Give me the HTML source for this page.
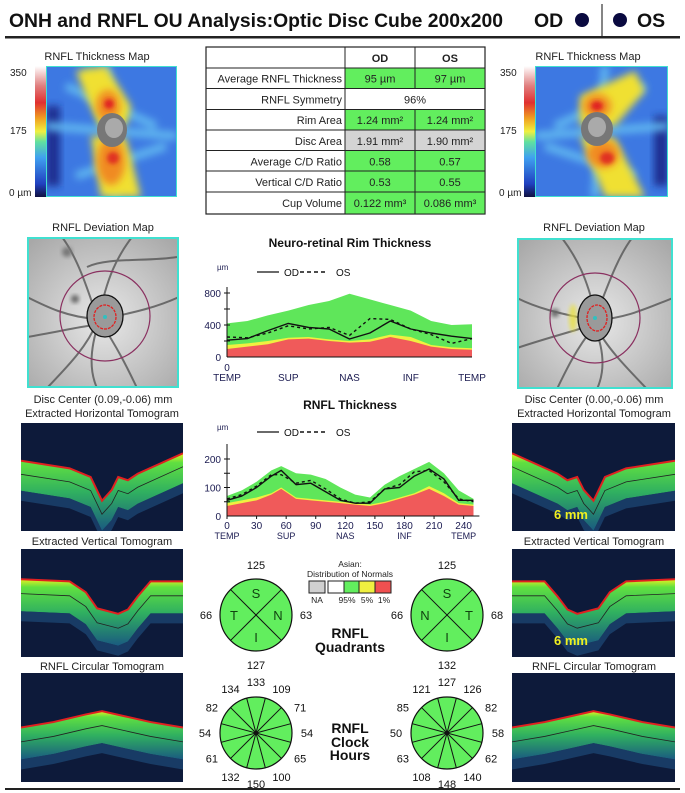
<!DOCTYPE html>
<html><head><meta charset="utf-8">
<style>
html,body{margin:0;padding:0;background:#fff;}
svg{display:block;font-family:"Liberation Sans",sans-serif;}
</style></head>
<body>
<svg id="root" width="685" height="793" viewBox="0 0 685 793" xmlns="http://www.w3.org/2000/svg">
<defs>
  <linearGradient id="cbar" x1="0" y1="1" x2="0" y2="0">
    <stop offset="0" stop-color="#101040"/><stop offset="0.1" stop-color="#2040c0"/>
    <stop offset="0.3" stop-color="#40a0f0"/><stop offset="0.42" stop-color="#60e0a0"/>
    <stop offset="0.5" stop-color="#f0f040"/><stop offset="0.6" stop-color="#f0a020"/>
    <stop offset="0.72" stop-color="#e03030"/><stop offset="0.85" stop-color="#e08080"/>
    <stop offset="1" stop-color="#ffffff"/>
  </linearGradient>
  <filter id="blur4" x="-30%" y="-30%" width="160%" height="160%"><feGaussianBlur stdDeviation="4"/></filter>
  <filter id="blur2" x="-30%" y="-30%" width="160%" height="160%"><feGaussianBlur stdDeviation="2"/></filter>
  <linearGradient id="retina" x1="0" y1="0" x2="0" y2="1">
    <stop offset="0" stop-color="#e8f020"/><stop offset="0.12" stop-color="#60e040"/>
    <stop offset="0.5" stop-color="#30b060"/><stop offset="1" stop-color="#1a5a80"/>
  </linearGradient>
  <radialGradient id="fundus" cx="0.5" cy="0.55" r="0.7">
    <stop offset="0" stop-color="#e8e8e8"/><stop offset="1" stop-color="#a8a8a8"/>
  </radialGradient>
</defs>

<!-- Header -->
<text x="9" y="27" font-size="19.5" font-weight="bold" fill="#111" textLength="494" lengthAdjust="spacingAndGlyphs">ONH and RNFL OU Analysis:Optic Disc Cube 200x200</text>
<text x="534" y="27" font-size="19.5" font-weight="bold" fill="#111">OD</text>
<circle cx="582" cy="20" r="7" fill="#0a0a40"/>
<line x1="602" y1="4" x2="602" y2="36" stroke="#333" stroke-width="1.2"/>
<circle cx="620" cy="20" r="7" fill="#0a0a40"/>
<text x="637" y="27" font-size="19.5" font-weight="bold" fill="#111">OS</text>
<rect x="5" y="36" width="675" height="2.5" fill="#222"/>

<!-- Left thickness map -->
<g>
  <text x="97" y="60" font-size="11" text-anchor="middle" fill="#222">RNFL Thickness Map</text>
  <rect x="35" y="66" width="11" height="131" fill="url(#cbar)"/>
  <text x="10" y="76" font-size="10" fill="#222">350</text>
  <text x="10" y="134" font-size="10" fill="#222">175</text>
  <text x="9" y="196" font-size="10" fill="#222">0 µm</text>
  <svg x="46" y="66" width="131" height="131">
    <rect width="131" height="131" fill="#3d78e2"/>
    <rect x="0" y="40" width="14" height="80" fill="#1a2f90" filter="url(#blur4)"/>
    <path d="M20,20 L110,60 M30,110 L120,80 M0,60 L131,70 M60,0 L70,131" stroke="#60b8f0" stroke-width="8" filter="url(#blur4)"/>
    <path d="M40,0 L80,50 L55,60 Z" fill="#7fe08a" filter="url(#blur4)"/>
    <path d="M30,5 L60,0 L85,40 L80,60 L55,62 L40,30 Z" fill="#f0e030" filter="url(#blur4)"/>
    <path d="M45,70 L80,72 L95,131 L55,131 Z" fill="#f0e030" filter="url(#blur4)"/>
    <ellipse cx="62" cy="40" rx="12" ry="16" fill="#f08a20" filter="url(#blur4)"/>
    <ellipse cx="65" cy="95" rx="14" ry="24" fill="#f08a20" filter="url(#blur4)"/>
    <ellipse cx="63" cy="38" rx="5" ry="5" fill="#e02020" filter="url(#blur2)"/>
    <ellipse cx="67" cy="92" rx="6" ry="6" fill="#e03020" filter="url(#blur2)"/>
    <ellipse cx="66" cy="64" rx="15" ry="17" fill="#777"/>
    <ellipse cx="68" cy="62" rx="9" ry="10" fill="#aaa"/>
    <rect x="0.5" y="0.5" width="130" height="130" fill="none" stroke="#40e0d0" stroke-width="1"/>
  </svg>
</g>

<!-- Right thickness map -->
<g>
  <text x="588" y="60" font-size="11" text-anchor="middle" fill="#222">RNFL Thickness Map</text>
  <rect x="524" y="66" width="11" height="131" fill="url(#cbar)"/>
  <text x="500" y="76" font-size="10" fill="#222">350</text>
  <text x="500" y="134" font-size="10" fill="#222">175</text>
  <text x="499" y="196" font-size="10" fill="#222">0 µm</text>
  <svg x="535" y="66" width="133" height="131">
    <rect width="133" height="131" fill="#3d78e2"/>
    <rect x="119" y="50" width="14" height="70" fill="#1a2f90" filter="url(#blur4)"/>
    <path d="M110,20 L20,60 M100,110 L10,80 M0,70 L133,60 M70,0 L60,131" stroke="#60b8f0" stroke-width="8" filter="url(#blur4)"/>
    <path d="M45,30 L100,5 L110,25 L80,60 L45,60 Z" fill="#f0e030" filter="url(#blur4)"/>
    <path d="M45,70 L80,72 L110,131 L70,131 Z" fill="#f0e030" filter="url(#blur4)"/>
    <ellipse cx="62" cy="40" rx="14" ry="12" fill="#f08a20" filter="url(#blur4)"/>
    <ellipse cx="68" cy="88" rx="16" ry="14" fill="#f08a20" filter="url(#blur4)"/>
    <ellipse cx="62" cy="40" rx="6" ry="5" fill="#e02020" filter="url(#blur2)"/>
    <ellipse cx="72" cy="92" rx="7" ry="6" fill="#e03020" filter="url(#blur2)"/>
    <ellipse cx="62" cy="63" rx="16" ry="17" fill="#777"/>
    <ellipse cx="62" cy="61" rx="9" ry="10" fill="#aaa"/>
    <rect x="0.5" y="0.5" width="132" height="130" fill="none" stroke="#40e0d0" stroke-width="1"/>
  </svg>
</g>

<!-- Table -->
<g font-size="11" fill="#222">
  <rect x="206" y="47" width="279" height="167" fill="#fff" stroke="#222" stroke-width="1.2"/>
  <rect x="345.5" y="68.5" width="69" height="20" fill="#62ee5e"/>
  <rect x="415.5" y="68.5" width="69" height="20" fill="#62ee5e"/>
  <rect x="345.5" y="110" width="69" height="19.5" fill="#62ee5e"/>
  <rect x="415.5" y="110" width="69" height="19.5" fill="#62ee5e"/>
  <rect x="345.5" y="130.5" width="69" height="19.5" fill="#d4d4d4"/>
  <rect x="415.5" y="130.5" width="69" height="19.5" fill="#d4d4d4"/>
  <rect x="345.5" y="151" width="69" height="40.5" fill="#62ee5e"/>
  <rect x="415.5" y="151" width="69" height="40.5" fill="#62ee5e"/>
  <rect x="345.5" y="192.5" width="69" height="21" fill="#62ee5e"/>
  <rect x="415.5" y="192.5" width="69" height="21" fill="#62ee5e"/>
  <g stroke="#222" stroke-width="1">
    <line x1="206" y1="68" x2="485" y2="68"/><line x1="206" y1="88.5" x2="485" y2="88.5"/>
    <line x1="206" y1="109.5" x2="485" y2="109.5"/><line x1="206" y1="130" x2="485" y2="130"/>
    <line x1="206" y1="150.5" x2="485" y2="150.5"/><line x1="206" y1="171" x2="485" y2="171"/>
    <line x1="206" y1="192" x2="485" y2="192"/>
    <line x1="345" y1="47" x2="345" y2="214"/>
    <line x1="415" y1="47" x2="415" y2="88.5"/><line x1="415" y1="109.5" x2="415" y2="214"/>
  </g>
  <text x="380" y="62" text-anchor="middle" font-weight="bold">OD</text>
  <text x="450" y="62" text-anchor="middle" font-weight="bold">OS</text>
  <g text-anchor="end">
    <text x="342" y="82.5">Average RNFL Thickness</text>
    <text x="342" y="103.5">RNFL Symmetry</text>
    <text x="342" y="124">Rim Area</text>
    <text x="342" y="145">Disc Area</text>
    <text x="342" y="165.5">Average C/D Ratio</text>
    <text x="342" y="186">Vertical C/D Ratio</text>
    <text x="342" y="207">Cup Volume</text>
  </g>
  <g text-anchor="middle">
    <text x="380" y="82.5">95 µm</text><text x="450" y="82.5">97 µm</text>
    <text x="415" y="103.5">96%</text>
    <text x="380" y="124">1.24 mm²</text><text x="450" y="124">1.24 mm²</text>
    <text x="380" y="145">1.91 mm²</text><text x="450" y="145">1.90 mm²</text>
    <text x="380" y="165.5">0.58</text><text x="450" y="165.5">0.57</text>
    <text x="380" y="186">0.53</text><text x="450" y="186">0.55</text>
    <text x="380" y="207">0.122 mm³</text><text x="450" y="207">0.086 mm³</text>
  </g>
</g>

<!-- Deviation maps -->
<g>
  <text x="103" y="231" font-size="11" text-anchor="middle" fill="#222">RNFL Deviation Map</text>
  <svg x="27" y="237" width="152" height="151">
    <rect width="152" height="151" fill="url(#fundus)"/>
    <g stroke="#555" stroke-width="2" fill="none" opacity="0.8">
      <path d="M70,80 C60,50 50,20 35,0"/><path d="M72,80 C80,40 90,20 105,0"/>
      <path d="M70,85 C60,110 40,130 20,151"/><path d="M74,86 C90,110 100,130 110,151"/>
      <path d="M70,82 C40,80 20,70 0,60"/><path d="M75,82 C110,75 130,70 152,60"/>
      <path d="M72,85 C60,120 65,140 70,151"/><path d="M60,30 C80,20 120,25 150,20"/>
      <path d="M0,100 C30,95 50,90 68,88"/>
    </g>
    <circle cx="40" cy="15" r="5" fill="#777" filter="url(#blur2)"/>
    <circle cx="48" cy="62" r="4" fill="#666" filter="url(#blur2)"/>
    <circle cx="78" cy="79" r="45" fill="none" stroke="#8a3060" stroke-width="1.2"/>
    <ellipse cx="78" cy="79" rx="18" ry="21" fill="#9a9a9a" stroke="#111" stroke-width="1.3"/>
    <ellipse cx="78" cy="80" rx="11" ry="12" fill="none" stroke="#e02020" stroke-width="1.3" stroke-dasharray="3,1"/>
    <circle cx="78" cy="80" r="2" fill="#30c0c0"/>
    <rect x="1" y="1" width="150" height="149" fill="none" stroke="#40e0d0" stroke-width="2"/>
  </svg>
  <text x="103" y="403" font-size="11" text-anchor="middle" fill="#222">Disc Center  (0.09,-0.06) mm</text>
</g>
<g>
  <text x="594" y="231" font-size="11" text-anchor="middle" fill="#222">RNFL Deviation Map</text>
  <svg x="517" y="238" width="156" height="151">
    <rect width="156" height="151" fill="url(#fundus)"/>
    <g stroke="#555" stroke-width="2" fill="none" opacity="0.8">
      <path d="M80,75 C90,50 100,20 115,0"/><path d="M78,75 C70,40 60,20 45,0"/>
      <path d="M80,90 C90,110 110,130 130,151"/><path d="M76,90 C60,110 50,130 40,151"/>
      <path d="M80,82 C110,80 130,70 156,60"/><path d="M75,82 C40,75 20,70 0,60"/>
      <path d="M78,90 C90,120 85,140 80,151"/><path d="M0,110 C30,100 50,95 72,88"/>
    </g>
    <circle cx="38" cy="75" r="4" fill="#666" filter="url(#blur2)"/>
    <ellipse cx="56" cy="80" rx="4" ry="14" fill="#e8e040" opacity="0.8" filter="url(#blur2)"/>
    <circle cx="78" cy="80" r="45" fill="none" stroke="#8a3060" stroke-width="1.2"/>
    <ellipse cx="78" cy="80" rx="17" ry="23" fill="#9a9a9a" stroke="#111" stroke-width="1.3"/>
    <ellipse cx="80" cy="80" rx="10" ry="13" fill="none" stroke="#e02020" stroke-width="1.3" stroke-dasharray="3,1"/>
    <circle cx="78" cy="80" r="2" fill="#30c0c0"/>
    <rect x="1" y="1" width="154" height="149" fill="none" stroke="#40e0d0" stroke-width="2"/>
  </svg>
  <text x="594" y="403" font-size="11" text-anchor="middle" fill="#222">Disc Center  (0.00,-0.06) mm</text>
</g>

<!-- Tomogram labels -->
<g font-size="11" fill="#222" text-anchor="middle">
  <text x="102" y="417">Extracted Horizontal Tomogram</text>
  <text x="102" y="545">Extracted Vertical Tomogram</text>
  <text x="102" y="670">RNFL Circular Tomogram</text>
  <text x="594" y="417">Extracted Horizontal Tomogram</text>
  <text x="594" y="545">Extracted Vertical Tomogram</text>
  <text x="594" y="670">RNFL Circular Tomogram</text>
</g>
<g id="tomos"></g>

<!-- Charts -->
<g id="rimChart"></g>
<g id="rnflChart"></g>
<g id="quads"></g>

<!-- Normals legend -->
<g font-size="8.5" fill="#222" text-anchor="middle">
  <text x="350" y="567">Asian:</text>
  <text x="350" y="577">Distribution of Normals</text>
  <rect x="309" y="581" width="16" height="12" fill="#d0d0d0" stroke="#222"/>
  <rect x="328" y="581" width="16" height="12" fill="#fff" stroke="#222"/>
  <rect x="344" y="581" width="15" height="12" fill="#62ee5e" stroke="#222"/>
  <rect x="359" y="581" width="16" height="12" fill="#f0f040" stroke="#222"/>
  <rect x="375" y="581" width="16" height="12" fill="#f05050" stroke="#222"/>
  <text x="317" y="603">NA</text><text x="347" y="603">95%</text><text x="367" y="603">5%</text><text x="384" y="603">1%</text>
</g>
<g font-size="14" font-weight="bold" fill="#111" text-anchor="middle">
  <text x="350" y="638">RNFL</text>
  <text x="350" y="652">Quadrants</text>
  <text x="350" y="733">RNFL</text>
  <text x="350" y="747">Clock</text>
  <text x="350" y="760">Hours</text>
</g>
<rect x="5" y="788" width="675" height="2" fill="#222"/>

<script>
// ===== Rim chart data =====
const rimCats = ["TEMP","SUP","NAS","INF","TEMP"];
const rimPos = [0,0.0833,0.1667,0.25,0.3333,0.4167,0.5,0.5833,0.6667,0.75,0.8333,0.9167,1];
const rimGreen = [420,450,520,580,650,700,790,720,650,580,450,400,410];
const rimYellow = [150,170,200,240,250,220,200,220,280,250,150,120,110];
const rimRed = [100,130,160,220,230,200,180,190,250,200,130,100,90];
const rimOD = [210,230,330,420,370,350,225,300,450,350,300,260,230];
const rimOS = [250,240,300,390,350,370,270,480,470,350,280,170,230];
const rimTicks = [0,400,800];
// ===== RNFL chart data =====
const rnflPos = [0,15,30,45,55,70,85,100,115,130,145,160,175,190,205,220,235,250];
const rnflGreen = [70,90,120,160,175,150,145,130,100,75,65,110,140,165,190,150,90,60];
const rnflYellow = [45,55,65,80,100,65,60,55,50,45,40,50,65,80,105,80,45,40];
const rnflRed = [35,45,55,75,95,60,55,50,45,40,35,45,60,75,95,70,40,35];
const rnflOD = [55,70,100,140,160,110,115,85,55,45,45,95,100,140,165,130,55,55];
const rnflOS = [60,75,105,145,145,115,125,95,60,45,50,95,110,155,160,120,60,50];
const rnflTicks = [0,100,200];
const rnflXTicks = [0,30,60,90,120,150,180,210,240];
const rnflCats = ["TEMP","SUP","NAS","INF","TEMP"];
// ===== Quadrant / clock data =====
const quadOD = [125,63,127,66];
const quadOS = [125,68,132,66];
const quadLettersOD = ["S","N","I","T"];
const quadLettersOS = ["S","T","I","N"];
const clockOD = [133,109,71,54,65,100,150,132,61,54,82,134];
const clockOS = [127,126,82,58,62,140,148,108,63,50,85,121];

const NS = "http://www.w3.org/2000/svg";
function mk(tag, attrs, parent){ const e=document.createElementNS(NS,tag); for(const k in attrs) e.setAttribute(k,attrs[k]); parent.appendChild(e); return e; }
function txt(parent,x,y,s,attrs){ const t=mk("text",Object.assign({x:x,y:y},attrs||{}),parent); t.textContent=s; return t; }

function chart(g, opt){
  const xS = opt.xS, yS = opt.yS;
  txt(g, 350, opt.titleY, opt.title, {"font-size":12,"font-weight":"bold","text-anchor":"middle",fill:"#111"});
  // bands
  function area(vals, color, name){
    let d = "M"+xS(opt.pos[0])+","+yS(0);
    opt.pos.forEach((p,i)=>{ d += " L"+xS(p)+","+yS(vals[i]); });
    d += " L"+xS(opt.pos[opt.pos.length-1])+","+yS(0)+" Z";
    const p = mk("path",{d:d,fill:color},g);
    
    
  }
  area(opt.green,"#5fe65a","normal-range-95");
  area(opt.yellow,"#f0f040","borderline-range-5");
  area(opt.red,"#f05a5a","outside-range-1");
  function line(vals, dash, name){
    const d = opt.pos.map((p,i)=>(i?"L":"M")+xS(p)+","+yS(vals[i])).join(" ");
    const p = mk("path",{d:d,fill:"none",stroke:"#111","stroke-width":1.4,"stroke-dasharray":dash,"stroke-linejoin":"round"},g);
    
    
  }
  line(opt.od,"","od-line");
  line(opt.os,"3,3","os-line");
  // axes
  mk("line",{x1:xS(opt.x0),y1:opt.axisTop,x2:xS(opt.x0),y2:yS(0),stroke:"#111","stroke-width":1},g);
  mk("line",{x1:xS(opt.x0),y1:yS(0),x2:xS(opt.x1),y2:yS(0),stroke:"#111","stroke-width":1},g);
  opt.minor.forEach(v=>mk("line",{x1:xS(opt.x0)-3,y1:yS(v),x2:xS(opt.x0)+3,y2:yS(v),stroke:"#111"},g));
  opt.ticks.forEach(v=>{ txt(g,xS(opt.x0)-6,yS(v)+4,String(v),{"font-size":10,"text-anchor":"end",fill:"#1a1a50"}); });
  txt(g, opt.muX, opt.legY-2, "µm", {"font-size":8,fill:"#1a1a50"});
  mk("line",{x1:257,y1:opt.legY,x2:279,y2:opt.legY,stroke:"#111","stroke-width":1.2},g);
  txt(g,284,opt.legY+4,"OD",{"font-size":10,fill:"#111"});
  mk("line",{x1:300,y1:opt.legY,x2:325,y2:opt.legY,stroke:"#111","stroke-width":1.4,"stroke-dasharray":"4,3"},g);
  txt(g,336,opt.legY+4,"OS",{"font-size":10,fill:"#111"});
}

const rimG = document.getElementById("rimChart");
const rimX = f => 227 + f*245;
const rimY = v => 357 - v*(64/800);
chart(rimG,{xS:rimX,yS:rimY,pos:rimPos,green:rimGreen,yellow:rimYellow,red:rimRed,od:rimOD,os:rimOS,
  title:"Neuro-retinal Rim Thickness",titleY:247,x0:0,x1:1,axisTop:287,minor:[200,400,600,800],ticks:rimTicks,legY:272,muX:217});
txt(rimG,227,371,"0",{"font-size":10,"text-anchor":"middle",fill:"#1a1a50"});
rimCats.forEach((c,i)=>{ const t=txt(rimG,rimX(i/4),381,c,{"font-size":10,"text-anchor":"middle",fill:"#1a1a50"});
  
   });

const rnflG = document.getElementById("rnflChart");
const rnflX = d => 227 + d*0.986;
const rnflY = v => 516 - v*(57/200);
chart(rnflG,{xS:rnflX,yS:rnflY,pos:rnflPos,green:rnflGreen,yellow:rnflYellow,red:rnflRed,od:rnflOD,os:rnflOS,
  title:"RNFL Thickness",titleY:409,x0:0,x1:256,axisTop:444,minor:[50,100,150,200],ticks:rnflTicks,legY:432,muX:217});
rnflXTicks.forEach(v=>{ mk("line",{x1:rnflX(v),y1:516,x2:rnflX(v),y2:519,stroke:"#111"},rnflG);
  const t=txt(rnflG,rnflX(v),529,String(v),{"font-size":10,"text-anchor":"middle",fill:"#1a1a50"});
  
   });
rnflCats.forEach((c,i)=>{ txt(rnflG,rnflX(i*60),539,c,{"font-size":9,"text-anchor":"middle",fill:"#1a1a50"}); });

// Quadrant & clock circles
const qg = document.getElementById("quads");
const R = 36;
function quad(cx,cy,vals,letters,name){
  const g = mk("g",{},qg);
  
  
  mk("circle",{cx:cx,cy:cy,r:R,fill:"#62ee5e",stroke:"#111","stroke-width":1.2},g);
  const k = R*Math.SQRT1_2;
  mk("line",{x1:cx-k,y1:cy-k,x2:cx+k,y2:cy+k,stroke:"#111","stroke-width":1},g);
  mk("line",{x1:cx+k,y1:cy-k,x2:cx-k,y2:cy+k,stroke:"#111","stroke-width":1},g);
  const off=[[0,-22],[22,0],[0,22],[-22,0]];
  letters.forEach((l,i)=>txt(g,cx+off[i][0],cy+off[i][1]+5,l,{"font-size":13,"text-anchor":"middle",fill:"#114411"}));
  const lo=[[0,-50],[50,0],[0,50],[-50,0]];
  vals.forEach((v,i)=>txt(g,cx+lo[i][0],cy+lo[i][1]+4,String(v),{"font-size":11,"text-anchor":"middle",fill:"#111"}));
}
function clock(cx,cy,vals,name){
  const g = mk("g",{},qg);
  
  
  mk("circle",{cx:cx,cy:cy,r:R,fill:"#62ee5e",stroke:"#111","stroke-width":1.2},g);
  for(let i=0;i<12;i++){ const a=(15+30*i)*Math.PI/180;
    mk("line",{x1:cx,y1:cy,x2:cx+R*Math.sin(a),y2:cy-R*Math.cos(a),stroke:"#111","stroke-width":1},g); }
  mk("circle",{cx:cx,cy:cy,r:2,fill:"#111"},g);
  vals.forEach((v,i)=>{ const a=(30*i)*Math.PI/180;
    txt(g,cx+51*Math.sin(a),cy-51*Math.cos(a)+4,String(v),{"font-size":11,"text-anchor":"middle",fill:"#111"}); });
}
quad(256,615,quadOD,quadLettersOD,"od-quadrant-circle");
quad(447,615,quadOS,quadLettersOS,"os-quadrant-circle");
clock(256,733,clockOD,"od-clock-hours-circle");
clock(447,733,clockOS,"os-clock-hours-circle");

// Tomograms (decorative images)
const tg = document.getElementById("tomos");
function tomo(x,y,w,h,top,thick,name,label,flip){
  const s = mk("svg",{x:x,y:y,width:w,height:h},tg);
  
  
  mk("rect",{width:w,height:h,fill:"#0d1a3a"},s);
  const pts = top.map(p=>[flip? w-p[0]*w : p[0]*w, p[1]*h]);
  if(flip) pts.reverse();
  let d = "M"+pts.map(p=>p[0]+","+p[1]).join(" L");
  const bot = pts.slice().reverse().map(p=>[p[0],p[1]+thick]);
  const band = d + " L" + bot.map(p=>p[0]+","+p[1]).join(" L") + " Z";
  mk("path",{d:band,fill:"url(#retina)"},s);
  const low = pts.slice().reverse().map(p=>[p[0],p[1]+thick+10]);
  mk("path",{d:"M"+pts.map(p=>p[0]+","+(p[1]+thick)).join(" L")+" L"+low.map(p=>p[0]+","+p[1]).join(" L")+" Z",fill:"#1e4a78",opacity:0.7},s);
  mk("path",{d:d,fill:"none",stroke:"#e02020","stroke-width":2},s);
  mk("path",{d:"M"+pts.map(p=>p[0]+","+(p[1]+thick*0.45)).join(" L"),fill:"none",stroke:"#222","stroke-width":0.8},s);
  if(label){ const t=txt(s,42,h-12,"6 mm",{"font-size":13,"font-weight":"bold",fill:"#f0f020"}); }
}
const hTop=[[0,0.35],[0.3,0.42],[0.43,0.5],[0.5,0.72],[0.56,0.62],[0.6,0.5],[0.66,0.53],[0.72,0.47],[1,0.28]];
const vTop=[[0,0.28],[0.3,0.3],[0.4,0.4],[0.47,0.55],[0.6,0.6],[0.66,0.56],[0.72,0.44],[0.8,0.3],[1,0.3]];
const cTop=[[0,0.5],[0.2,0.45],[0.4,0.38],[0.5,0.35],[0.65,0.4],[0.8,0.45],[1,0.5]];
tomo(21,423,162,108,hTop,30,"od-horizontal-tomogram",false,false);
tomo(21,549,162,108,vTop,32,"od-vertical-tomogram",false,false);
tomo(21,673,162,109,cTop,32,"od-circular-tomogram",false,false);
tomo(512,423,163,108,hTop,30,"os-horizontal-tomogram",true,true);
tomo(512,549,163,108,vTop,32,"os-vertical-tomogram",true,true);
tomo(512,673,163,109,cTop,32,"os-circular-tomogram",false,true);
</script>
</svg>
</body></html>
